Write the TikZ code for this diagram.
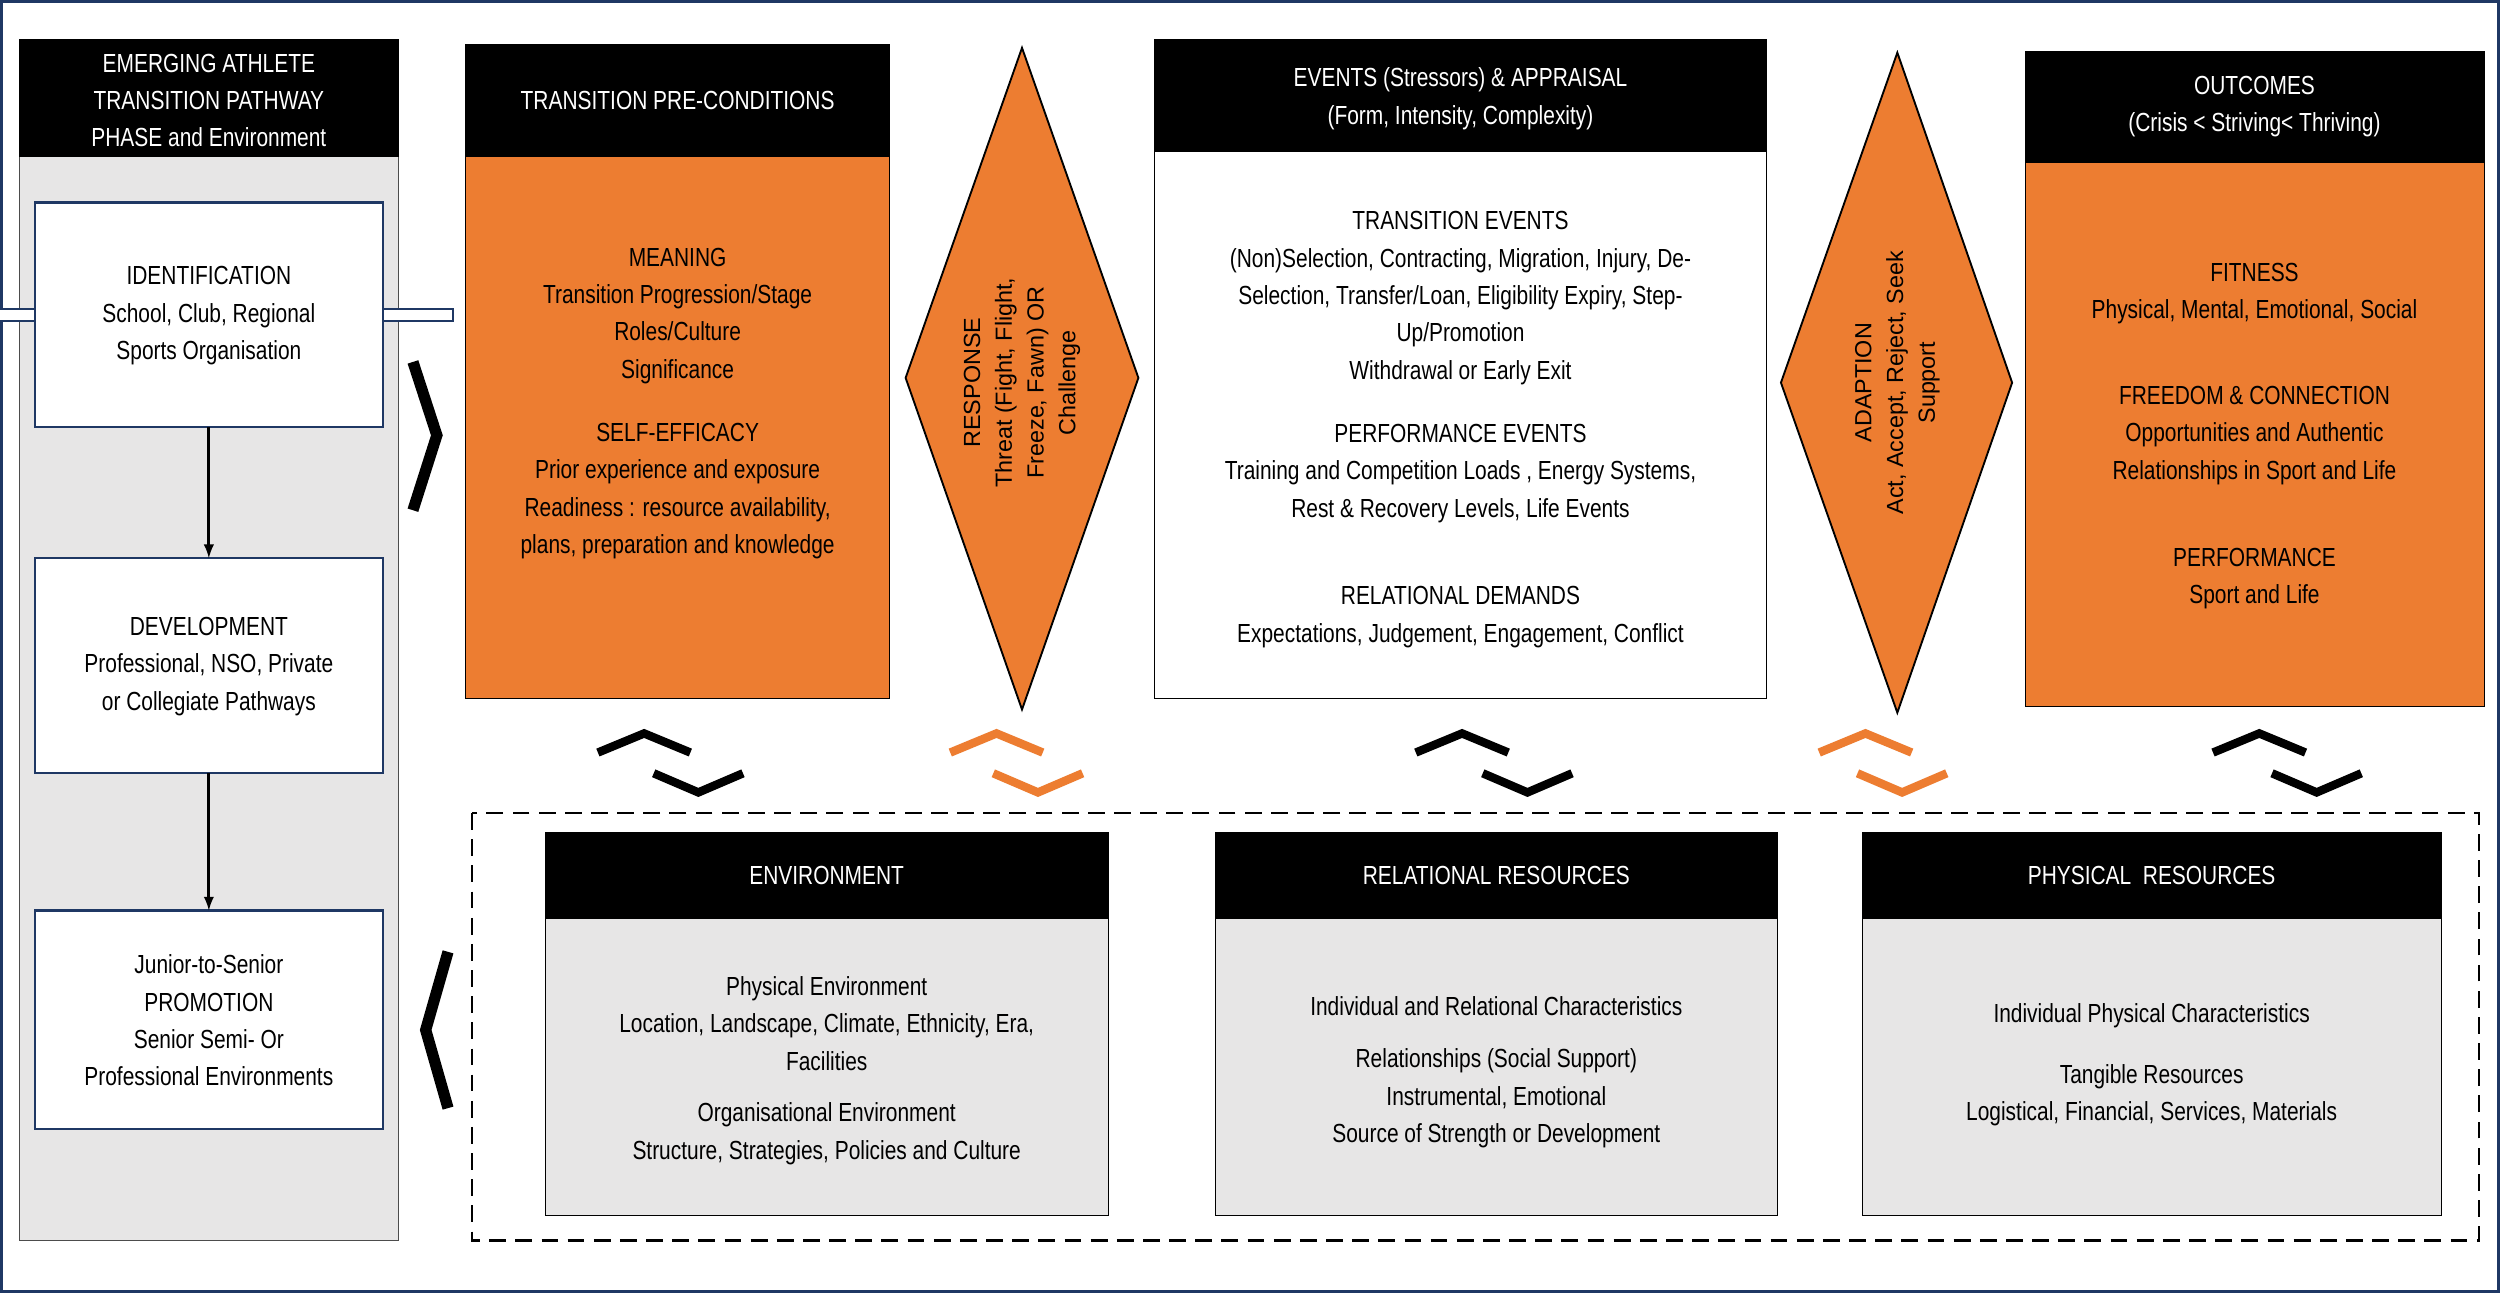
\documentclass[tikz,border=0pt]{standalone}
\usepackage{fontspec}
\setmainfont{Liberation Sans}[FakeStretch=0.8]
\newfontfamily\diafont{Liberation Sans}
\definecolor{orng}{HTML}{ED7D31}
\definecolor{gry}{HTML}{E7E6E6}
\definecolor{navy}{HTML}{1F3864}
\begin{document}
\begin{tikzpicture}[x=0.03cm,y=-0.03cm,
  txt/.style={align=center,font=\fontsize{14}{20}\selectfont,inner sep=0pt},
  htxt/.style={txt,text=white},
  hdr/.style={fill=black,draw=black},
  wbox/.style={fill=white,draw=navy,line width=1.2pt},
  chev/.style={line width=4.5pt,line join=miter,line cap=butt},
  dia/.style={fill=orng,draw=black,line width=1pt},
  dtxt/.style={align=center,font=\diafont\fontsize{12.5}{17}\selectfont,rotate=90,inner sep=0pt}]
\useasboundingbox (0,0) rectangle (1568,811);
\draw[navy,line width=2pt,fill=white] (1,1) rectangle (1567,810);
% left column
\draw[fill=gry,draw=black!70] (12,98) rectangle (250,778);
\draw[hdr] (12,25) rectangle (250,98);
\node[htxt] (lh) at (131,63) {EMERGING ATHLETE\\TRANSITION PATHWAY\\PHASE and Environment};
\node[wbox,minimum width=218\pgflinewidth] (b1) at (131,197.5) {};
\draw[wbox] (22,127) rectangle (240,268); \coordinate (b1s) at (131,268);
\node[txt] (t1) at (131,198) {IDENTIFICATION\\School, Club, Regional\\Sports Organisation};
\draw[wbox] (22,350) rectangle (240,485); \coordinate (b2n) at (131,350); \coordinate (b2s) at (131,485);
\node[txt] (t2) at (131,418) {DEVELOPMENT\\Professional, NSO, Private\\or Collegiate Pathways};
\draw[wbox] (22,571) rectangle (240,708); \coordinate (b3n) at (131,571);
\node[txt] (t3) at (131,640) {Junior-to-Senior\\PROMOTION\\Senior Semi- Or\\Professional Environments};
\draw[-latex,line width=1.5pt] (b1s) -- (b2n);
\draw[-latex,line width=1.5pt] (b2s) -- (b3n);
% big chevrons
\draw[chev,line width=6pt] (259,227) -- (274,273) -- (259,320);
\draw[chev,line width=6pt] (281,597) -- (267,646) -- (281,695);
% pre-conditions
\draw[fill=orng,draw=black] (292,98) rectangle (558,438);
\draw[hdr] (292,28) rectangle (558,98);
\node[htxt] (ph) at (425,63) {TRANSITION PRE-CONDITIONS};
\node[txt] (pm) at (425,198) {MEANING\\Transition Progression/Stage\\Roles/Culture\\Significance};
\node[txt] (ps) at (425,308) {SELF-EFFICACY\\Prior experience and exposure\\Readiness : resource availability,\\plans, preparation and knowledge};
% response diamond
\draw[dia] (641,30) -- (714,237) -- (641,445) -- (568,237) -- cycle;
\node[dtxt] (rd) at (641,240) {RESPONSE\\Threat (Fight, Flight,\\Freeze, Fawn) OR\\Challenge};
% events
\draw[fill=white,draw=black] (724,95) rectangle (1108,438);
\draw[hdr] (724,25) rectangle (1108,95);
\node[htxt] (eh) at (916,62) {EVENTS (Stressors) \& APPRAISAL\\(Form, Intensity, Complexity)};
\node[txt] (e1) at (916,187) {TRANSITION EVENTS\\(Non)Selection, Contracting, Migration, Injury, De-\\Selection, Transfer/Loan, Eligibility Expiry, Step-\\Up/Promotion\\Withdrawal or Early Exit};
\node[txt] (e2) at (916,297) {PERFORMANCE EVENTS\\Training and Competition Loads , Energy Systems,\\Rest \& Recovery Levels, Life Events};
\node[txt] (e3) at (916,387) {RELATIONAL DEMANDS\\Expectations, Judgement, Engagement, Conflict};
% adaption diamond
\draw[dia] (1190,33) -- (1262,240) -- (1190,447) -- (1117,240) -- cycle;
\node[dtxt] (ad) at (1190,240) {ADAPTION\\Act, Accept, Reject, Seek\\Support};
% outcomes
\draw[fill=orng,draw=black] (1270,102) rectangle (1558,443);
\draw[hdr] (1270,32) rectangle (1558,102);
\node[htxt] (oh) at (1414,67) {OUTCOMES\\(Crisis < Striving< Thriving)};
\node[txt] (o1) at (1414,184) {FITNESS\\Physical, Mental, Emotional, Social};
\node[txt] (o2) at (1414,273) {FREEDOM \& CONNECTION\\Opportunities and Authentic\\Relationships in Sport and Life};
\node[txt] (o3) at (1414,363) {PERFORMANCE\\Sport and Life};
% small chevrons
\foreach \a/\b/\c in {375/410/black,596/623/orng,888/930/black,1141/1165/orng,1388/1425/black}{
  \draw[chev,\c] (\a,472) -- (\a+29,460) -- (\a+58,472);
  \draw[chev,\c] (\b,485) -- (\b+28,497) -- (\b+56,485);
}
% dashed
\draw[dashed,line width=1.2pt,dash pattern=on 9pt off 5pt] (296,510) rectangle (1555,778);
\foreach \l/\r/\n in {342/695/env,762/1115/rel,1168/1531/phy}{
  \draw[fill=gry,draw=black] (\l,576) rectangle (\r,762);
  \draw[hdr] (\l,522) rectangle (\r,576);
}
\node[htxt] (envh) at (518.5,549) {ENVIRONMENT};
\node[htxt] (relh) at (938.5,549) {RELATIONAL RESOURCES};
\node[htxt] (phyh) at (1349.5,549) {PHYSICAL\ \ RESOURCES};
\node[txt] (en1) at (518.5,642) {Physical Environment\\Location, Landscape, Climate, Ethnicity, Era,\\Facilities};
\node[txt] (en2) at (518.5,711) {Organisational Environment\\Structure, Strategies, Policies and Culture};
\node[txt] (re1) at (938.5,631) {Individual and Relational Characteristics};
\node[txt] (re2) at (938.5,689) {Relationships (Social Support)\\Instrumental, Emotional\\Source of Strength or Development};
\node[txt] (ph1) at (1349.5,637) {Individual Physical Characteristics};
\node[txt] (ph2) at (1349.5,687) {Tangible Resources\\Logistical, Financial, Services, Materials};
\end{tikzpicture}
\end{document}
